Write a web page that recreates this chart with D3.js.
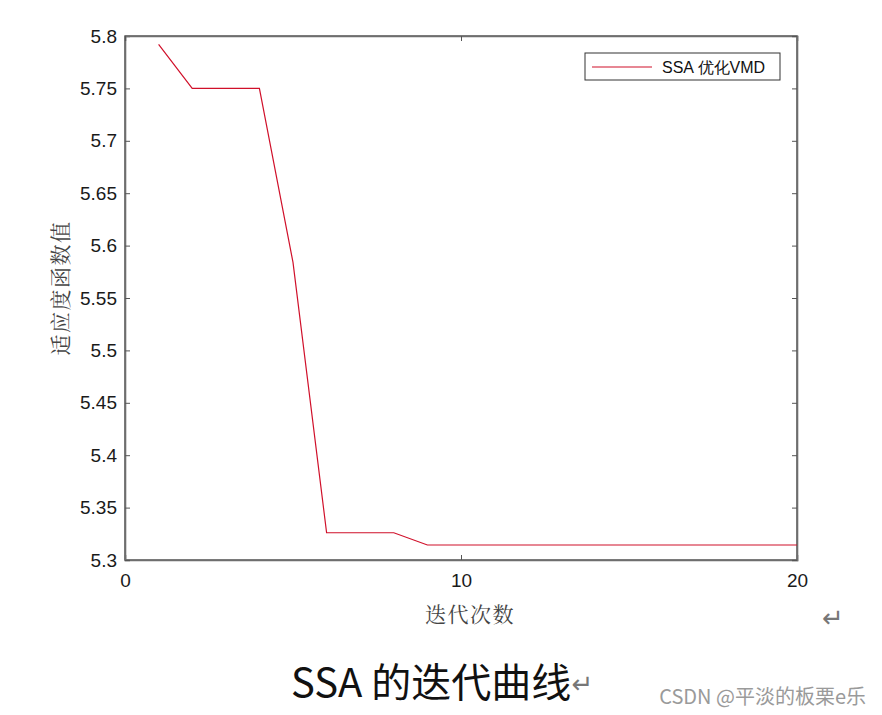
<!DOCTYPE html>
<html>
<head>
<meta charset="utf-8">
<script src="https://cdn.jsdelivr.net/npm/d3@7"></script>
<style>
  body { margin: 0; background: #fff; }
  svg { display: block; }
</style>
</head>
<body>
<div id="viz"></div>
<script>
// SSA iteration curve - fitness value per iteration

const iterations = [1, 2, 3, 4, 5, 6, 7, 8, 9, 10, 11, 12, 13, 14, 15, 16, 17, 18, 19, 20];
const fitness = [5.792, 5.75, 5.75, 5.75, 5.584, 5.326, 5.326, 5.326, 5.3143, 5.3143,
                 5.3143, 5.3143, 5.3143, 5.3143, 5.3143, 5.3143, 5.3143, 5.3143, 5.3143, 5.3143];
const xTicks = [0, 10, 20];
const yTicks = [5.3, 5.35, 5.4, 5.45, 5.5, 5.55, 5.6, 5.65, 5.7, 5.75, 5.8];
const seriesName = "SSA 优化VMD";

const width = 882, height = 715;
const margin = { left: 125, right: 85, top: 36, bottom: 155 };

const svg = d3.select("#viz").append("svg")
    .attr("width", width)
    .attr("height", height);

const x = d3.scaleLinear().domain([0, 20]).range([margin.left, width - margin.right]);
const y = d3.scaleLinear().domain([5.3, 5.8]).range([height - margin.bottom, margin.top]);

const tickFont = "'Liberation Sans', Arial, sans-serif";
const cjkSerif = "'Noto Serif CJK SC', 'Noto Sans CJK SC', serif";

// box
svg.append("rect")
    .attr("x", x(0)).attr("y", y(5.8))
    .attr("width", x(20) - x(0)).attr("height", y(5.3) - y(5.8))
    .attr("fill", "none").attr("stroke", "#2b2b2b").attr("stroke-width", 1.2);

// bottom / left axes (ticks inward)
svg.append("g")
    .attr("transform", `translate(0,${y(5.3)})`)
    .call(d3.axisBottom(x).tickValues(xTicks).tickSize(-5).tickPadding(14).tickFormat(d3.format("d")));
svg.append("g")
    .attr("transform", `translate(${x(0)},0)`)
    .call(d3.axisLeft(y).tickValues(yTicks).tickSize(-5).tickPadding(8).tickFormat(d => String(+d.toFixed(2))));
// top / right mirrored ticks
svg.append("g")
    .attr("transform", `translate(0,${y(5.8)})`)
    .call(d3.axisTop(x).tickValues(xTicks).tickSize(-5).tickFormat(""));
svg.append("g")
    .attr("transform", `translate(${x(20)},0)`)
    .call(d3.axisRight(y).tickValues(yTicks).tickSize(-5).tickFormat(""));

svg.selectAll(".domain").attr("stroke", "#6e6e6e").attr("stroke-width", 1.6);
svg.selectAll(".tick line").attr("stroke", "#555");
svg.selectAll(".tick text")
    .attr("fill", "#1a1a1a")
    .style("font-family", tickFont)
    .style("font-size", "19px");

// line
const line = d3.line()
    .x((d, i) => x(iterations[i]))
    .y(d => y(d));
svg.append("path")
    .datum(fitness)
    .attr("d", line)
    .attr("fill", "none")
    .attr("stroke", "#d0102a")
    .attr("stroke-width", 1.2);

// legend
const legend = svg.append("g").attr("transform", "translate(585,53)");
legend.append("rect")
    .attr("width", 195).attr("height", 27)
    .attr("fill", "#fff").attr("stroke", "#333").attr("stroke-width", 1);
legend.append("line")
    .attr("x1", 7).attr("x2", 67).attr("y1", 14).attr("y2", 14)
    .attr("stroke", "#d0102a").attr("stroke-width", 1.2);
legend.append("text")
    .attr("x", 77).attr("y", 20)
    .style("font-family", tickFont)
    .style("font-size", "16px")
    .attr("fill", "#111")
    .text(seriesName);

// axis titles
svg.append("text")
    .attr("transform", "translate(68,288) rotate(-90)")
    .attr("text-anchor", "middle")
    .style("font-family", cjkSerif)
    .style("font-size", "21px")
    .style("letter-spacing", "1.5px")
    .attr("fill", "#444")
    .text("适应度函数值");

svg.append("text")
    .attr("x", 470).attr("y", 622)
    .attr("text-anchor", "middle")
    .style("font-family", cjkSerif)
    .style("font-size", "21px")
    .style("letter-spacing", "1.5px")
    .attr("fill", "#444")
    .text("迭代次数");

svg.append("text")
    .attr("x", 833).attr("y", 627)
    .attr("text-anchor", "middle")
    .style("font-family", "'DejaVu Sans', sans-serif")
    .style("font-size", "26px")
    .attr("fill", "#777")
    .text("↵");

// caption
const caption = svg.append("text")
    .attr("x", 291).attr("y", 697)
    .style("font-family", "'Noto Sans CJK SC', sans-serif")
    .style("font-size", "40px")
    .attr("fill", "#111");
caption.append("tspan").text("SSA 的迭代曲线");
caption.append("tspan")
    .style("font-family", "'DejaVu Sans', sans-serif")
    .style("font-size", "26px")
    .attr("fill", "#777")
    .attr("dy", -4)
    .text("↵");

// watermark
svg.append("text")
    .attr("x", 866).attr("y", 704)
    .attr("text-anchor", "end")
    .style("font-family", "'Noto Sans CJK SC', sans-serif")
    .style("font-size", "20px")
    .attr("fill", "#9a9a9a")
    .text("CSDN @平淡的板栗e乐");
</script>
</body>
</html>
